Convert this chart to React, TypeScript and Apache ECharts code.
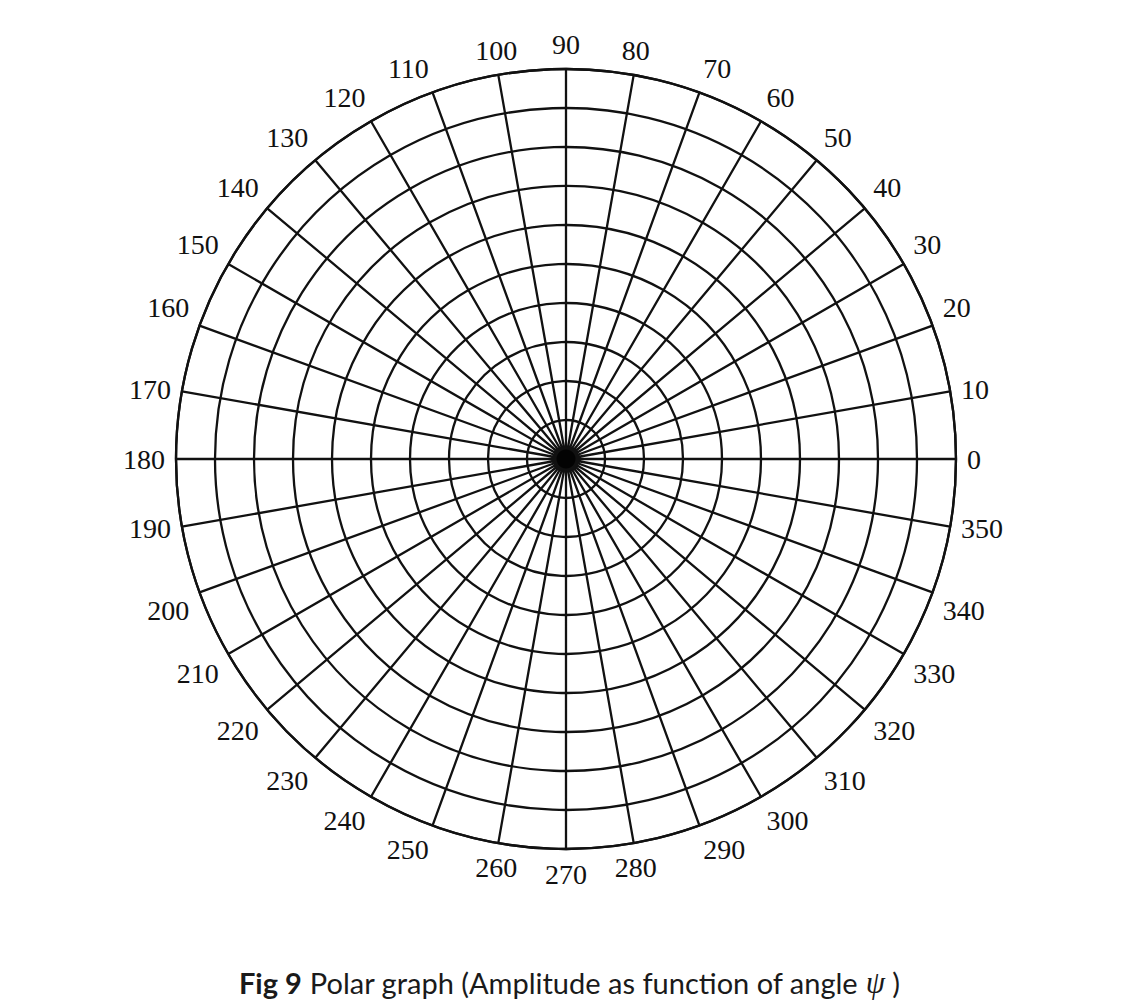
import { useEffect, useRef } from 'react';
import * as echarts from 'echarts';

// angle tick labels, degrees, counter-clockwise from the right
const angleLabels = [
  '0', '10', '20', '30', '40', '50', '60', '70', '80',
  '90', '100', '110', '120', '130', '140', '150', '160', '170',
  '180', '190', '200', '210', '220', '230', '240', '250', '260',
  '270', '280', '290', '300', '310', '320', '330', '340', '350',
];
// amplitude rings
const rings = [1, 2, 3, 4, 5, 6, 7, 8, 9, 10];
// pole of the graph [radius, angle], where the spokes meet
const pole = [[0, 0]];

const lineColor = '#111';

export default function App() {
  const chartRef = useRef(null);

  useEffect(() => {
    const chart = echarts.init(chartRef.current, null, { renderer: 'svg' });
    const option = {
      animation: false,
      backgroundColor: '#fff',
      title: {
        left: 'center',
        top: 962,
        text: '{b|Fig 9} Polar graph (Amplitude as function of angle {p|ψ} )',
        textStyle: {
          fontFamily: 'Lato',
          fontSize: 29,
          fontWeight: 'normal',
          color: '#1a1a1a',
          rich: {
            b: { fontFamily: 'Lato', fontSize: 29, fontWeight: 'bold', color: '#1a1a1a' },
            p: { fontFamily: 'Liberation Serif', fontSize: 31, fontStyle: 'italic', color: '#1a1a1a' },
          },
        },
      },
      polar: {
        center: [566, 459],
        radius: 390,
      },
      angleAxis: {
        type: 'value',
        min: 0,
        max: 360,
        interval: 10,
        startAngle: 0,
        clockwise: false,
        axisLine: { show: true, lineStyle: { color: lineColor, width: 2.3 } },
        axisTick: { show: false },
        splitLine: { show: true, lineStyle: { color: lineColor, width: 2.3 } },
        axisLabel: {
          margin: 11,
          fontFamily: 'Liberation Serif',
          fontSize: 28,
          color: '#111',
          formatter: (v: number) => {
            const i = Math.round(v / 10);
            return i < angleLabels.length ? angleLabels[i] : '';
          },
        },
      },
      radiusAxis: {
        type: 'value',
        min: 0,
        max: rings[rings.length - 1],
        interval: 1,
        axisLine: { show: false },
        axisTick: { show: false },
        axisLabel: { show: false },
        splitLine: { show: true, lineStyle: { color: lineColor, width: 2.3 } },
      },
      series: [
        {
          type: 'scatter',
          coordinateSystem: 'polar',
          symbol: 'circle',
          symbolSize: 19,
          itemStyle: { color: '#000' },
          silent: true,
          data: pole,
        },
      ],
    };
    chart.setOption(option);
    return () => {
      chart.dispose();
    };
  }, []);

  return (
    <div
      ref={chartRef}
      style={{ position: 'absolute', left: 0, top: 0, width: '1139px', height: '1007px' }}
    />
  );
}
